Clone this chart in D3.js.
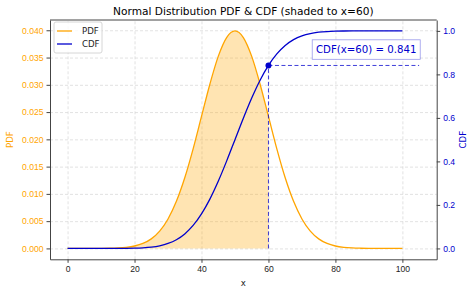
<!DOCTYPE html>
<html>
<head>
<meta charset="utf-8">
<script src="https://cdn.jsdelivr.net/npm/d3@7"></script>
<style>
  body { margin: 0; background: #fff; }
  svg { font-family: "DejaVu Sans", sans-serif; }
  .grid line { stroke: #d6d6d6; stroke-dasharray: 3,2; stroke-width: 0.7; }
  .grid path { display: none; }
</style>
</head>
<body>
<svg id="chart"></svg>
<script>
// values, x step 2.5
var xs = [0,2.5,5,7.5,10,12.5,15,17.5,20,22.5,25,27.5,30,32.5,35,37.5,40,42.5,45,47.5,50,
          52.5,55,57.5,60,62.5,65,67.5,70,72.5,75,77.5,80,82.5,85,87.5,90,92.5,95,97.5,100];
var pdfVals = [0,0,0.000002,0.000005,0.000013,0.000035,0.000087,0.000203,0.000443,0.00091,0.00175,
               0.00317,0.0054,0.00863,0.01295,0.01826,0.0242,0.03011,0.03521,0.03867,0.03989,
               0.03867,0.03521,0.03011,0.0242,0.01826,0.01295,0.00863,0.0054,0.00317,0.00175,
               0.00091,0.000443,0.000203,0.000087,0.000035,0.000013,0.000005,0.000002,0,0];
var cdfVals = [0,0,0.000003,0.00001,0.00003,0.00009,0.00023,0.00058,0.00135,0.00298,0.00621,
               0.01222,0.02275,0.04006,0.06681,0.10565,0.15866,0.22663,0.30854,0.40129,0.5,
               0.59871,0.69146,0.77337,0.84134,0.89435,0.93319,0.95994,0.97725,0.98778,0.99379,
               0.99702,0.99865,0.99942,0.99977,0.99991,0.99997,0.99999,1,1,1];
var xTicks = [0,20,40,60,80,100];
var pdfTicks = [0,0.005,0.01,0.015,0.02,0.025,0.03,0.035,0.04];
var cdfTicks = [0,0.2,0.4,0.6,0.8,1.0];
var cutX = 60, cutCdf = 0.841, lineEnd = 105;

var W = 474, H = 293;
var margin = {top: 20, right: 37.3, bottom: 33.7, left: 50},
    width = W - margin.left - margin.right,
    height = H - margin.top - margin.bottom;

var svg = d3.select("#chart").attr("width", W).attr("height", H);
var g = svg.append("g").attr("transform", "translate(" + margin.left + "," + margin.top + ")");

var data = xs.map(function(x, i) { return {x: x, pdf: pdfVals[i], cdf: cdfVals[i]}; });

var x = d3.scaleLinear().domain([-5.25, 110.25]).range([0, width]);
var y = d3.scaleLinear().domain([-0.001995, 0.041885]).range([height, 0]);
var y2 = d3.scaleLinear().domain([-0.05, 1.05]).range([height, 0]);

var orange = "#ffa500", blue = "#0000cd";

// grid
g.append("g").attr("class", "grid")
  .attr("transform", "translate(0," + height + ")")
  .call(d3.axisBottom(x).tickValues(xTicks).tickSize(-height).tickFormat(""));
g.append("g").attr("class", "grid")
  .call(d3.axisLeft(y).tickValues(pdfTicks).tickSize(-width).tickFormat(""));

// shaded area up to x=60
var area = d3.area()
  .x(function(d) { return x(d.x); })
  .y0(y(0))
  .y1(function(d) { return y(d.pdf); })
  .curve(d3.curveMonotoneX);
g.append("path")
  .datum(data.filter(function(d) { return d.x <= cutX; }))
  .attr("d", area)
  .attr("fill", orange).attr("fill-opacity", 0.3);

var pdfLine = d3.line().x(function(d) { return x(d.x); }).y(function(d) { return y(d.pdf); }).curve(d3.curveMonotoneX);
var cdfLine = d3.line().x(function(d) { return x(d.x); }).y(function(d) { return y2(d.cdf); }).curve(d3.curveMonotoneX);

g.append("path").datum(data).attr("d", pdfLine)
  .attr("fill", "none").attr("stroke", orange).attr("stroke-width", 1.3);
g.append("path").datum(data).attr("d", cdfLine)
  .attr("fill", "none").attr("stroke", blue).attr("stroke-width", 1.3);

// dashed guides
g.append("line")
  .attr("x1", x(cutX)).attr("x2", x(cutX)).attr("y1", y2(0)).attr("y2", y2(cutCdf))
  .attr("stroke", blue).attr("stroke-width", 1).attr("stroke-dasharray", "4,2.5").attr("opacity", 0.75);
g.append("line")
  .attr("x1", x(cutX)).attr("x2", x(lineEnd)).attr("y1", y2(cutCdf)).attr("y2", y2(cutCdf))
  .attr("stroke", blue).attr("stroke-width", 1).attr("stroke-dasharray", "4,2.5").attr("opacity", 0.75);
g.append("circle").attr("cx", x(cutX)).attr("cy", y2(cutCdf)).attr("r", 3).attr("fill", blue);

// annotation box
var ann = g.append("g").attr("transform", "translate(" + (x(89.2)) + "," + (y2(0.913)) + ")");
ann.append("rect").attr("x", -54).attr("y", -10).attr("width", 108).attr("height", 19.5)
  .attr("fill", "#fff").attr("stroke", blue).attr("stroke-opacity", 0.4).attr("stroke-width", 0.8);
ann.append("text").attr("text-anchor", "middle").attr("dy", "0.35em")
  .attr("font-size", 10.2).attr("fill", blue).text("CDF(x=" + cutX + ") = " + cutCdf.toFixed(3));

// axes
function styleAxis(sel, col) {
  sel.select(".domain").attr("stroke", "#444").attr("stroke-width", 1);
  sel.selectAll(".tick line").attr("stroke", "#444");
  sel.selectAll(".tick text").attr("fill", col).attr("font-size", 8.6);
}
var xa = g.append("g").attr("transform", "translate(0," + height + ")")
  .call(d3.axisBottom(x).tickValues(xTicks).tickSize(3.5).tickPadding(3).tickSizeOuter(0));
styleAxis(xa, "#222");
var ya = g.append("g")
  .call(d3.axisLeft(y).tickValues(pdfTicks).tickFormat(d3.format(".3f")).tickSize(3.5).tickPadding(3).tickSizeOuter(0));
styleAxis(ya, orange);
var ya2 = g.append("g").attr("transform", "translate(" + width + ",0)")
  .call(d3.axisRight(y2).tickValues(cdfTicks).tickFormat(d3.format(".1f")).tickSize(3.5).tickPadding(3).tickSizeOuter(0));
styleAxis(ya2, blue);
g.append("line").attr("x1", 0).attr("x2", width).attr("y1", 0).attr("y2", 0).attr("stroke", "#444");

// labels
svg.append("text").attr("x", margin.left + width / 2).attr("y", 15).attr("text-anchor", "middle")
  .attr("font-size", 10.6).attr("fill", "#000").text("Normal Distribution PDF & CDF (shaded to x=60)");
svg.append("text").attr("x", margin.left + width / 2).attr("y", 286).attr("text-anchor", "middle")
  .attr("font-size", 8.6).attr("fill", "#222").text("x");
svg.append("text").attr("transform", "translate(13," + (margin.top + height / 2) + ") rotate(-90)")
  .attr("text-anchor", "middle").attr("font-size", 8.6).attr("fill", orange).text("PDF");
svg.append("text").attr("transform", "translate(466," + (margin.top + height / 2) + ") rotate(-90)")
  .attr("text-anchor", "middle").attr("font-size", 8.6).attr("fill", blue).text("CDF");

// legend
var lg = g.append("g").attr("transform", "translate(4,2)");
lg.append("rect").attr("width", 48).attr("height", 31).attr("rx", 2)
  .attr("fill", "#fff").attr("fill-opacity", 0.8).attr("stroke", "#ccc").attr("stroke-width", 0.8);
[["PDF", orange], ["CDF", blue]].forEach(function(d, i) {
  var yy = 9 + i * 13;
  lg.append("line").attr("x1", 3).attr("x2", 18).attr("y1", yy).attr("y2", yy)
    .attr("stroke", d[1]).attr("stroke-width", 1.3);
  lg.append("text").attr("x", 28).attr("y", yy).attr("dy", "0.35em")
    .attr("font-size", 8.6).attr("fill", "#222").text(d[0]);
});
</script>
</body>
</html>
